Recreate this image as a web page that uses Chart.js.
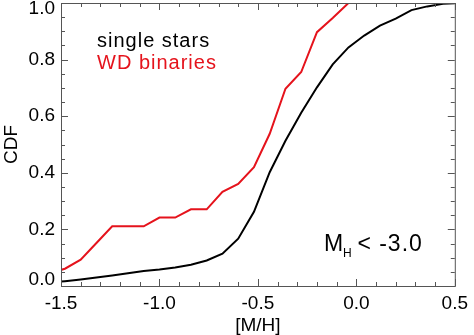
<!DOCTYPE html>
<html>
<head>
<meta charset="utf-8">
<script src="https://cdn.jsdelivr.net/npm/chart.js@4"></script>
<style>
  html, body { margin: 0; padding: 0; background: #fff; }
  #wrap { width: 474px; height: 335px; }
</style>
</head>
<body>
<div id="wrap"><canvas id="cdf"></canvas></div>
<script>
// [M/H] grid shared by both curves
const metallicity = [-1.56, -1.48, -1.40, -1.32, -1.24, -1.16, -1.08, -1.00, -0.92, -0.84,
  -0.76, -0.68, -0.60, -0.52, -0.44, -0.36, -0.28, -0.20, -0.12, -0.04,
  0.04, 0.12, 0.20, 0.28, 0.36, 0.44, 0.52];

const singleStars = [0.012, 0.017, 0.023, 0.030, 0.037, 0.045, 0.053, 0.058, 0.065, 0.075,
  0.090, 0.114, 0.167, 0.262, 0.402, 0.513, 0.612, 0.702, 0.783, 0.843,
  0.885, 0.920, 0.945, 0.975, 0.988, 0.997, 1.000];

const wdBinaries = [0.045, 0.061, 0.093, 0.152, 0.211, 0.211, 0.211, 0.242, 0.242, 0.271,
  0.271, 0.333, 0.361, 0.420, 0.538, 0.697, 0.756, 0.897, 0.947, 1.000];

const xTicks = [-1.5, -1.0, -0.5, 0.0, 0.5];
const yTicks = [0.0, 0.2, 0.4, 0.6, 0.8, 1.0];

const FONT = '"Liberation Sans", Arial, Helvetica, sans-serif';
const RED = '#e5131c';

function pts(ys) {
  return ys.map((v, i) => ({ x: metallicity[i], y: v }));
}

// box with inward ticks on all four sides, y labels, legend text and the cut label
const frame = {
  id: 'frame',
  afterDraw(chart) {
    const { ctx, chartArea: a, scales: { x, y } } = chart;
    ctx.save();
    ctx.strokeStyle = '#555';
    ctx.lineWidth = 1;
    ctx.strokeRect(a.left + 0.5, a.top + 0.5, a.right - a.left, a.bottom - a.top);

    ctx.beginPath();
    for (let i = 0; i <= 20; i++) {
      const px = Math.round(x.getPixelForValue(-1.5 + i * 0.1)) + 0.5;
      const len = i % 5 === 0 ? 7 : 4;
      ctx.moveTo(px, a.bottom); ctx.lineTo(px, a.bottom - len);
      ctx.moveTo(px, a.top); ctx.lineTo(px, a.top + len);
    }
    for (let i = 0; i <= 20; i++) {
      const py = Math.round(y.getPixelForValue(i * 0.05)) + 0.5;
      const len = i % 4 === 0 ? 7 : 4;
      ctx.moveTo(a.left, py); ctx.lineTo(a.left + len, py);
      ctx.moveTo(a.right, py); ctx.lineTo(a.right - len, py);
    }
    ctx.stroke();

    ctx.fillStyle = '#000';
    ctx.font = '19px ' + FONT;
    ctx.textAlign = 'right';
    ctx.textBaseline = 'middle';
    yTicks.forEach(v => {
      const py = Math.min(Math.max(y.getPixelForValue(v), a.top + 6), a.bottom - 6);
      ctx.fillText(v.toFixed(1), a.left - 6, py);
    });

    ctx.textAlign = 'left';
    ctx.textBaseline = 'alphabetic';
    ctx.font = '20px ' + FONT;
    ctx.letterSpacing = '1px';
    ctx.fillStyle = '#000';
    ctx.fillText('single stars', 97, 47);
    ctx.fillStyle = RED;
    ctx.fillText('WD binaries', 97, 69);

    ctx.fillStyle = '#000';
    ctx.letterSpacing = '0px';
    ctx.font = '23px ' + FONT;
    ctx.fillText('M', 324, 251);
    ctx.font = '12px ' + FONT;
    ctx.fillText('H', 343, 257);
    ctx.font = '23px ' + FONT;
    ctx.letterSpacing = '1px';
    ctx.fillText(' < -3.0', 350, 251);
    ctx.restore();
  }
};

new Chart(document.getElementById('cdf'), {
  type: 'scatter',
  data: {
    datasets: [
      { label: 'single stars', data: pts(singleStars), showLine: true,
        borderColor: '#000', borderWidth: 2, pointRadius: 0, tension: 0 },
      { label: 'WD binaries', data: pts(wdBinaries), showLine: true,
        borderColor: RED, borderWidth: 2, pointRadius: 0, tension: 0 }
    ]
  },
  options: {
    responsive: true,
    maintainAspectRatio: false,
    animation: false,
    layout: { padding: { top: 3, right: 13, left: 0, bottom: 0 } },
    plugins: { legend: { display: false }, tooltip: { enabled: false } },
    scales: {
      x: {
        type: 'linear', min: -1.5, max: 0.5,
        afterBuildTicks: s => { s.ticks = xTicks.map(v => ({ value: v })); },
        afterFit: s => { s.height = 49; },
        grid: { display: false, drawTicks: false },
        border: { display: false },
        ticks: { color: '#000', font: { family: FONT, size: 19 }, padding: 6,
                 maxRotation: 0, autoSkip: false, callback: v => v.toFixed(1) },
        title: { display: true, text: '[M/H]', color: '#000',
                 font: { family: FONT, size: 19, lineHeight: 1 }, padding: 0 }
      },
      y: {
        type: 'linear', min: 0, max: 1,
        afterFit: s => { s.width = 61; },
        grid: { display: false, drawTicks: false },
        border: { display: false },
        ticks: { display: false },
        title: { display: true, text: 'CDF', color: '#000',
                 font: { family: FONT, size: 19, lineHeight: 1.2 }, padding: 0 }
      }
    }
  },
  plugins: [frame]
});
</script>
</body>
</html>
